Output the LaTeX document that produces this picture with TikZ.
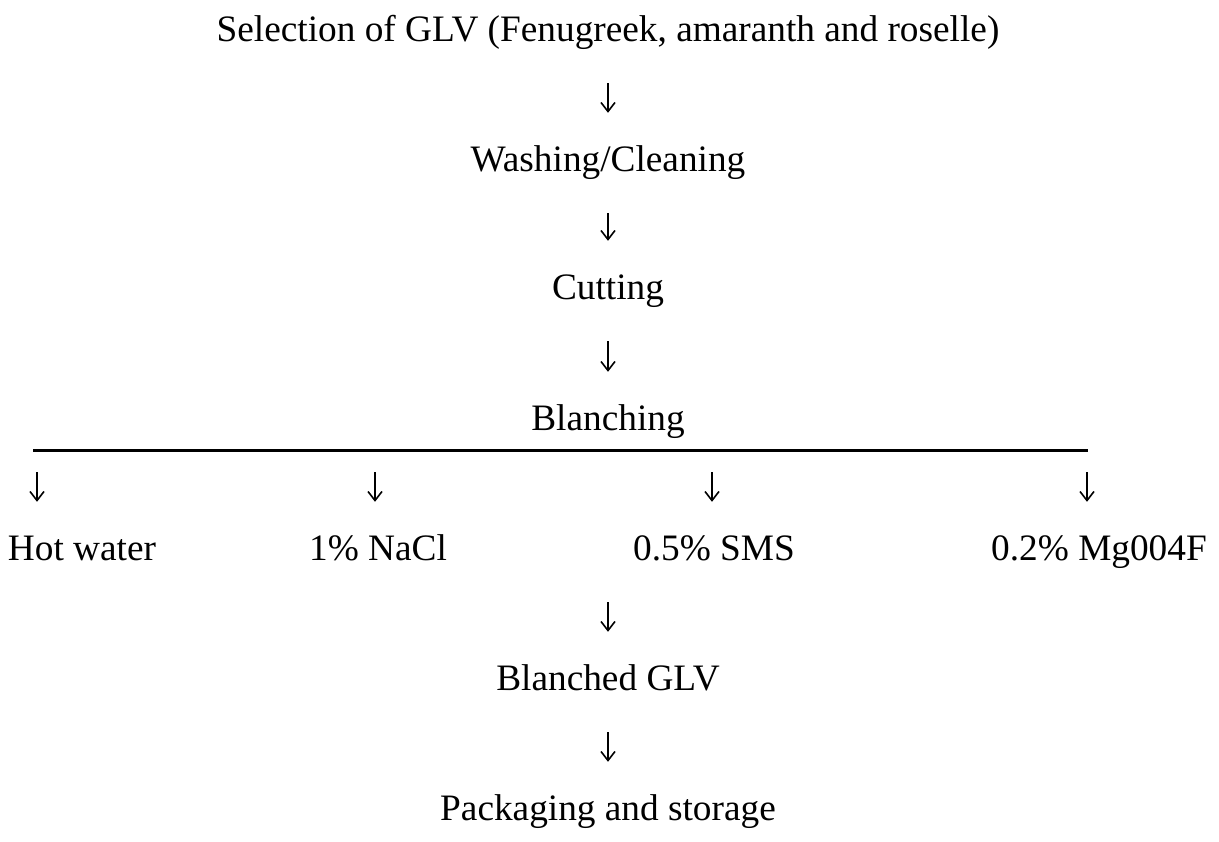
\documentclass[tikz,border=0pt]{standalone}
\usepackage{fontspec}
\setmainfont{Liberation Serif}
\usetikzlibrary{arrows.meta}
\begin{document}
\begin{tikzpicture}[x=1pt,y=-1pt,
  lbl/.style={inner sep=0pt, anchor=base, text height=26pt, text depth=8pt,
              font=\fontsize{37.3}{44}\selectfont},
  flow/.style={line width=1.6pt,
               -{Straight Barb[length=9pt,width=14pt,line width=1.6pt]},
               shorten <=33pt, shorten >=33pt},
  rulestroke/.style={line width=3pt}]
\fill[white] (0,0) rectangle (1219,842);
\useasboundingbox (0,0) rectangle (1219,842);
% main column
\node[lbl] (sel)  at (608,42)  {Selection of GLV (Fenugreek, amaranth and roselle)};
\node[lbl] (wash) at (608,172) {Washing/Cleaning};
\node[lbl] (cut)  at (608,300) {Cutting};
\node[lbl] (blan) at (608,430) {Blanching};
% horizontal rule
\coordinate (lineL) at (33,450);
\coordinate (lineR) at (1088,450);
\draw[rulestroke] (lineL) -- (lineR);
% branch points on the rule
\coordinate (b1) at (37,450);
\coordinate (b2) at (375,450);
\coordinate (b3) at (712,450);
\coordinate (b4) at (1087,450);
% treatments
\node[lbl] (hot)  at (82,560)   {Hot water};
\node[lbl] (nacl) at (378,560)  {1\% NaCl};
\node[lbl] (sms)  at (714,560)  {0.5\% SMS};
\node[lbl] (mg)   at (1099,560) {0.2\% Mg004F};
% results
\node[lbl] (blgv) at (608,690) {Blanched GLV};
\node[lbl] (pack) at (608,820) {Packaging and storage};
% connectors
\draw[flow] (sel.south) -- (wash.north);
\draw[flow] (wash.south) -- (cut.north);
\draw[flow, shorten >=32pt] (cut.south) -- (blan.north);
\draw[flow, shorten <=22pt, shorten >=32pt] (b1) -- (b1 |- hot.north);
\draw[flow, shorten <=22pt, shorten >=32pt] (b2) -- (b2 |- nacl.north);
\draw[flow, shorten <=22pt, shorten >=32pt] (b3) -- (b3 |- sms.north);
\draw[flow, shorten <=22pt, shorten >=32pt] (b4) -- (b4 |- mg.north);
\draw[flow, shorten <=34pt, shorten >=32pt] (blgv.north |- sms.south) -- (blgv.north);
\draw[flow, shorten <=34pt, shorten >=32pt] (blgv.south) -- (pack.north);
\end{tikzpicture}
\end{document}
